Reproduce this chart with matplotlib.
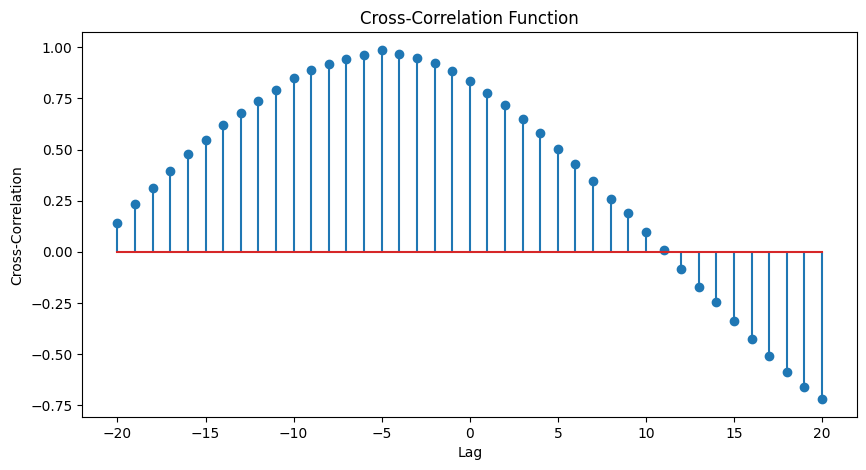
import matplotlib
matplotlib.use("Agg")
import matplotlib.pyplot as plt
import numpy as np

lags = list(range(-20, 21))
ccf = [0.142, 0.234, 0.312, 0.395, 0.478, 0.547, 0.620, 0.679, 0.737, 0.791,
       0.850, 0.889, 0.918, 0.942, 0.963, 0.988, 0.968, 0.949, 0.924, 0.885,
       0.835, 0.778, 0.719, 0.649, 0.583, 0.504, 0.430, 0.348, 0.260, 0.192,
       0.099, 0.011, -0.082, -0.170, -0.244, -0.337, -0.425, -0.508, -0.585,
       -0.659, -0.721]

fig = plt.figure(figsize=(8.66, 4.7), dpi=100)
ax = fig.add_axes([0.0950, 0.1128, 0.8949, 0.8185])
ax.stem(lags, ccf)
ax.set_title("Cross-Correlation Function")
ax.set_xlabel("Lag")
ax.set_ylabel("Cross-Correlation")
fig.savefig("out.png", dpi=100)
